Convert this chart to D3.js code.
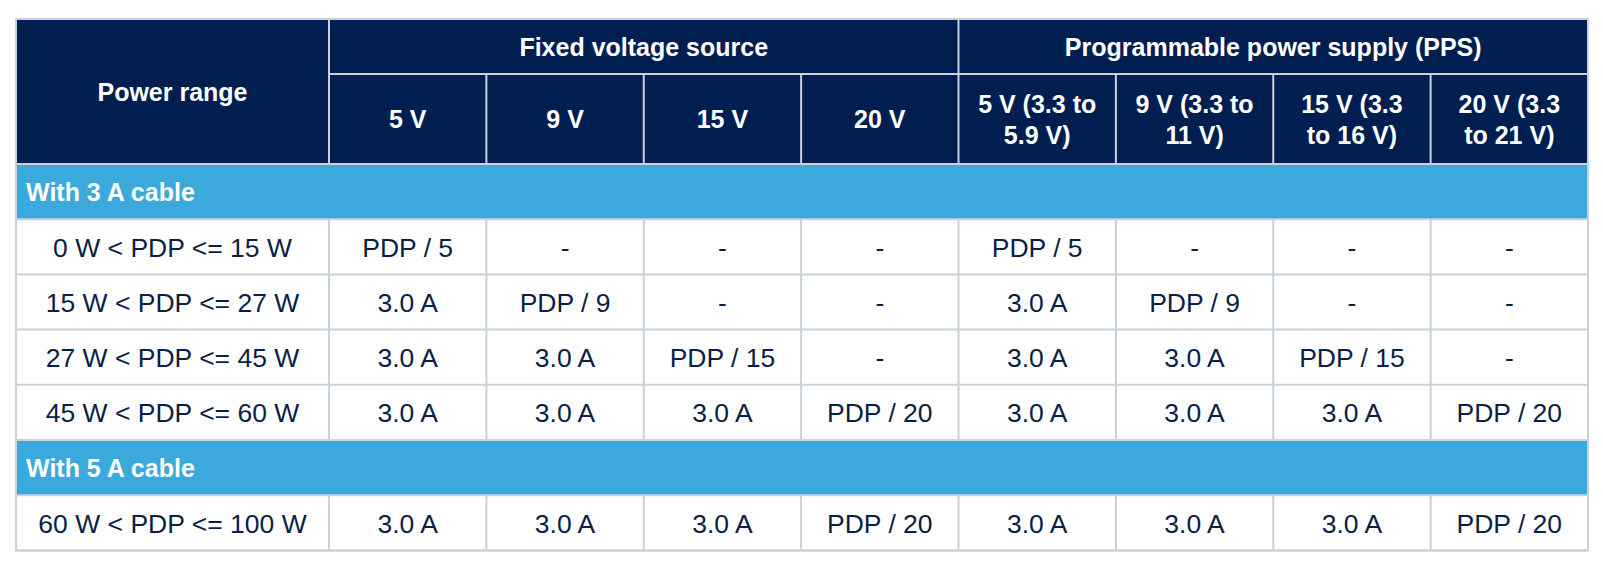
<!DOCTYPE html>
<html><head><meta charset="utf-8">
<script src="https://cdn.jsdelivr.net/npm/d3@7"></script>
<style>body{margin:0;background:#fff}</style>
</head><body>
<svg id="chart" width="1603" height="562"></svg>
<script>
const groups = ["Fixed voltage source", "Programmable power supply (PPS)"];
const columns = [["5 V"], ["9 V"], ["15 V"], ["20 V"], ["5 V (3.3 to", "5.9 V)"], ["9 V (3.3 to", "11 V)"], ["15 V (3.3", "to 16 V)"], ["20 V (3.3", "to 21 V)"]];
const sections = [
  {label: "With 3 A cable", rows: [
    ["0 W < PDP <= 15 W", "PDP / 5", "-", "-", "-", "PDP / 5", "-", "-", "-"],
    ["15 W < PDP <= 27 W", "3.0 A", "PDP / 9", "-", "-", "3.0 A", "PDP / 9", "-", "-"],
    ["27 W < PDP <= 45 W", "3.0 A", "3.0 A", "PDP / 15", "-", "3.0 A", "3.0 A", "PDP / 15", "-"],
    ["45 W < PDP <= 60 W", "3.0 A", "3.0 A", "3.0 A", "PDP / 20", "3.0 A", "3.0 A", "3.0 A", "PDP / 20"]
  ]},
  {label: "With 5 A cable", rows: [
    ["60 W < PDP <= 100 W", "3.0 A", "3.0 A", "3.0 A", "PDP / 20", "3.0 A", "3.0 A", "3.0 A", "PDP / 20"]
  ]}
];

const svg = d3.select("#chart");
const navy = "#001e50", blue = "#3ba9db", ink = "#0a1f45", grid = "#c9d1d9";
const left = 16, right = 1588, firstW = 313, tableTop = 19, h1 = 55, h2 = 90, rh = 55.2;
const x = d3.scaleBand().domain(d3.range(8)).range([left + firstW, right]);
const font = "'Liberation Sans', Arial, sans-serif";

// header
svg.append("rect").attr("x", left).attr("y", tableTop).attr("width", right - left).attr("height", h1 + h2).attr("fill", navy);
svg.append("line").attr("x1", left + firstW).attr("x2", right).attr("y1", tableTop + h1).attr("y2", tableTop + h1).attr("stroke", grid).attr("stroke-width", 2);
svg.append("text").attr("x", left + firstW / 2).attr("y", tableTop + (h1 + h2) / 2 + 9).attr("text-anchor", "middle")
  .attr("fill", "#fff").attr("font-family", font).attr("font-weight", "bold").attr("font-size", 25).text("Power range");
groups.forEach((g, i) => {
  const x0 = x(i * 4), x1 = x(i * 4 + 3) + x.bandwidth();
  svg.append("text").attr("x", (x0 + x1) / 2).attr("y", tableTop + h1 / 2 + 9).attr("text-anchor", "middle")
    .attr("fill", "#fff").attr("font-family", font).attr("font-weight", "bold").attr("font-size", 25).text(g);
});
columns.forEach((c, i) => {
  const t = svg.append("text").attr("text-anchor", "middle").attr("fill", "#fff").attr("font-family", font)
    .attr("font-weight", "bold").attr("font-size", 25);
  const cy = tableTop + h1 + h2 / 2 + 9;
  c.forEach((s, j) => t.append("tspan").attr("x", x(i) + x.bandwidth() / 2)
    .attr("y", cy + (j - (c.length - 1) / 2) * 31).text(s));
});

// body
let y = tableTop + h1 + h2;
const rowYs = [];
sections.forEach(sec => {
  svg.append("rect").attr("x", left).attr("y", y).attr("width", right - left).attr("height", rh).attr("fill", blue);
  svg.append("text").attr("x", left + 10).attr("y", y + rh / 2 + 9).attr("fill", "#fff").attr("font-family", font)
    .attr("font-weight", "bold").attr("font-size", 25).text(sec.label);
  rowYs.push(y);
  y += rh;
  sec.rows.forEach(r => {
    rowYs.push(y);
    r.forEach((v, i) => {
      const cx = i === 0 ? left + firstW / 2 : x(i - 1) + x.bandwidth() / 2;
      svg.append("text").attr("x", cx).attr("y", y + rh / 2 + 10).attr("text-anchor", "middle").attr("fill", ink)
        .attr("font-family", font).attr("font-size", 26.5).text(v);
    });
    svg.append("g").selectAll("line").data(d3.range(9)).join("line")
      .attr("x1", i => i === 0 ? left + firstW : x(i - 1) + x.bandwidth())
      .attr("x2", i => i === 0 ? left + firstW : x(i - 1) + x.bandwidth())
      .attr("y1", y).attr("y2", y + rh).attr("stroke", grid).attr("stroke-width", 2);
    y += rh;
  });
});
rowYs.push(y);
svg.append("g").selectAll("line").data(rowYs).join("line")
  .attr("x1", left).attr("x2", right).attr("y1", d => d).attr("y2", d => d).attr("stroke", grid).attr("stroke-width", 2);
// header vertical separators
svg.append("g").selectAll("line").data(d3.range(8)).join("line")
  .attr("x1", i => x(i)).attr("x2", i => x(i))
  .attr("y1", i => (i === 0 || i === 4) ? tableTop : tableTop + h1).attr("y2", tableTop + h1 + h2)
  .attr("stroke", grid).attr("stroke-width", 2);
svg.append("rect").attr("x", left).attr("y", tableTop).attr("width", right - left).attr("height", y - tableTop)
  .attr("fill", "none").attr("stroke", grid).attr("stroke-width", 2);
</script>
</body></html>
